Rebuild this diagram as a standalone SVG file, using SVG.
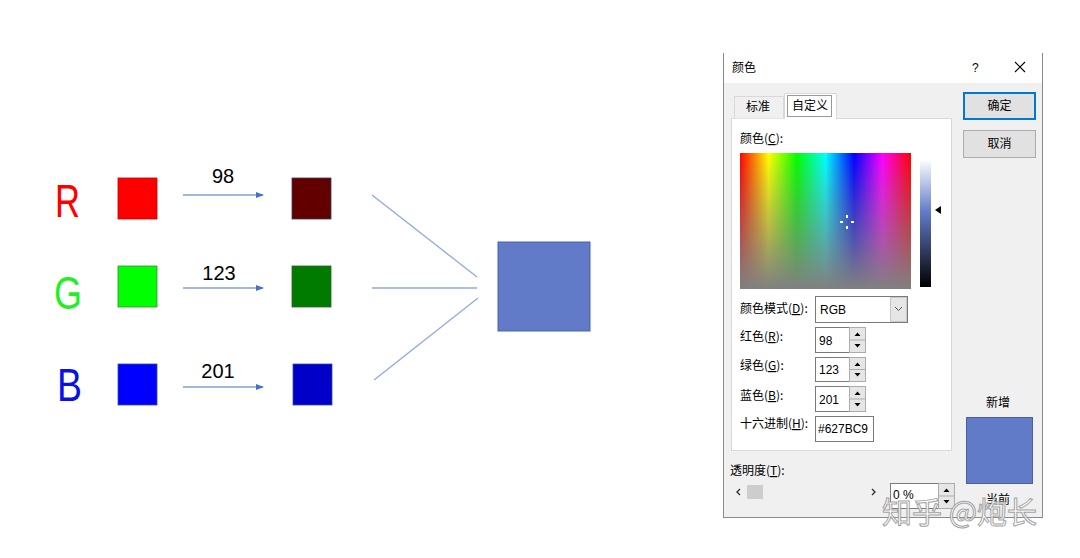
<svg xmlns="http://www.w3.org/2000/svg" width="1080" height="558" viewBox="0 0 1080 558">
<defs>
<style>
.big{font-family:"Liberation Sans",Arial,sans-serif;font-size:46px}
.num{font-family:"Liberation Sans",Arial,sans-serif;font-size:20px;fill:#000;text-anchor:middle}
.conn{stroke:#4472C4;stroke-width:1.2;fill:none}
.fan{stroke:#8FAADC;stroke-width:1.3;fill:none}
.ui{font-family:"Noto Sans CJK SC","Microsoft YaHei",sans-serif;font-size:12px;fill:#000}
.uin{font-family:"Liberation Sans",Arial,sans-serif;font-size:12px;fill:#000}
.box{fill:#fff;stroke:#7a7a7a;stroke-width:1}
.spin{fill:#e6e6e6;stroke:#adadad;stroke-width:1}
.btn{fill:#e1e1e1;stroke:#adadad;stroke-width:1}
.u{text-decoration:underline}
</style>
<marker id="ah" markerWidth="8" markerHeight="8" refX="7" refY="4" orient="auto" markerUnits="userSpaceOnUse">
<path d="M0,1 L8,4 L0,7 Z" fill="#4472C4"/>
</marker>
<linearGradient id="hue" x1="0" y1="0" x2="1" y2="0">
<stop offset="0" stop-color="#ff0000"/>
<stop offset="0.167" stop-color="#ffff00"/>
<stop offset="0.333" stop-color="#00ff00"/>
<stop offset="0.5" stop-color="#00ffff"/>
<stop offset="0.667" stop-color="#0000ff"/>
<stop offset="0.833" stop-color="#ff00ff"/>
<stop offset="1" stop-color="#ff0000"/>
</linearGradient>
<linearGradient id="sat" x1="0" y1="0" x2="0" y2="1">
<stop offset="0" stop-color="#808080" stop-opacity="0"/>
<stop offset="1" stop-color="#808080" stop-opacity="1"/>
</linearGradient>
<linearGradient id="lum" x1="0" y1="0" x2="0" y2="1">
<stop offset="0" stop-color="#ffffff"/>
<stop offset="0.414" stop-color="#627BC9"/>
<stop offset="1" stop-color="#000000"/>
</linearGradient>
</defs>
<rect width="1080" height="558" fill="#ffffff"/>

<g id="label-R"><text class="big" x="55" y="217" fill="#ff0000" textLength="25" lengthAdjust="spacingAndGlyphs">R</text></g>
<g id="label-G"><text class="big" x="54" y="309" fill="#1ff01f" textLength="28" lengthAdjust="spacingAndGlyphs">G</text></g>
<g id="label-B"><text class="big" x="57" y="401" fill="#0a10e8" textLength="25" lengthAdjust="spacingAndGlyphs">B</text></g>

<g id="sq-red"><rect x="118" y="178" width="39" height="41" fill="#ff0000" stroke="#c00000" stroke-width="0.8"/></g>
<g id="sq-green"><rect x="118" y="266" width="39" height="41" fill="#00ff00" stroke="#2f8f2f" stroke-width="0.8"/></g>
<g id="sq-blue"><rect x="118" y="364" width="39" height="41" fill="#0000ff" stroke="#2f528f" stroke-width="0.8"/></g>

<g id="sq-r98"><rect x="292" y="178" width="39" height="41" fill="#620000" stroke="#3a3a5a" stroke-width="0.8"/></g>
<g id="sq-g123"><rect x="292" y="266" width="39" height="41" fill="#007B00" stroke="#2f5f2f" stroke-width="0.8"/></g>
<g id="sq-b201"><rect x="293" y="364" width="39" height="41" fill="#0000C9" stroke="#2f528f" stroke-width="0.8"/></g>

<g id="result"><rect x="498" y="242" width="92" height="89" fill="#627BC9" stroke="#4a64b0" stroke-width="1"/></g>

<g id="connectors">
<line class="conn" x1="183" y1="195" x2="263" y2="195" marker-end="url(#ah)"/>
<line class="conn" x1="183" y1="288" x2="263" y2="288" marker-end="url(#ah)"/>
<line class="conn" x1="183" y1="387" x2="263" y2="387" marker-end="url(#ah)"/>
<text class="num" x="223" y="183">98</text>
<text class="num" x="219" y="280">123</text>
<text class="num" x="218" y="378">201</text>
<line class="fan" x1="372" y1="195" x2="477" y2="277"/>
<line class="fan" x1="372" y1="288" x2="477" y2="288"/>
<line class="fan" x1="374" y1="380" x2="478" y2="298"/>
</g>

<g id="dialog">
<rect x="723" y="53" width="320" height="465" fill="#f0f0f0"/>
<rect x="723" y="53" width="320" height="30" fill="#ffffff"/>
<line x1="723.5" y1="53" x2="723.5" y2="518" stroke="#8a8a8a"/>
<line x1="1042.5" y1="53" x2="1042.5" y2="518" stroke="#8a8a8a"/>
<line x1="723" y1="517.5" x2="1043" y2="517.5" stroke="#8a8a8a"/>
<text class="ui" x="732" y="72">颜色</text>
<text class="uin" x="972" y="72">?</text>
<path d="M1015,62 L1025,72 M1025,62 L1015,72" stroke="#000" stroke-width="1.1"/>

<!-- tabs -->
<rect x="731.5" y="118.5" width="220" height="332" fill="#ffffff" stroke="#d9d9d9"/>
<path d="M734.5,118.5 L734.5,96.5 L783.5,96.5 L783.5,118.5" fill="#f0f0f0" stroke="#d9d9d9"/>
<text class="ui" x="746" y="111">标准</text>
<path d="M784.5,119 L784.5,93.5 L836.5,93.5 L836.5,119" fill="#ffffff" stroke="#d9d9d9"/>
<rect x="787.5" y="95.5" width="44" height="21" fill="none" stroke="#333" stroke-dasharray="1,1" stroke-width="1"/>
<text class="ui" x="792" y="110">自定义</text>

<text class="ui" x="740" y="143">颜色(<tspan class="u">C</tspan>):</text>
<rect x="740" y="153" width="171" height="136" fill="url(#hue)"/>
<rect x="740" y="153" width="171" height="136" fill="url(#sat)"/>
<path d="M847,215v3 M847,226v3 M840,222h3 M851,222h3" stroke="#ffffff" stroke-width="2"/>
<rect x="920" y="159" width="11" height="128" fill="url(#lum)"/>
<path d="M935,210 L941,206 L941,214 Z" fill="#000"/>

<text class="ui" x="740" y="313">颜色模式(<tspan class="u">D</tspan>):</text>
<rect class="box" x="815.5" y="296.5" width="92" height="26"/>
<rect x="890.5" y="297.5" width="16" height="24" fill="#e6e6e6" stroke="#c8c8c8"/>
<path d="M895,307 L898.5,310.5 L902,307" stroke="#555" fill="none"/>
<text class="uin" x="820" y="314">RGB</text>

<text class="ui" x="740" y="341">红色(<tspan class="u">R</tspan>):</text>
<rect class="box" x="815.5" y="327.5" width="34" height="25"/>
<text class="uin" x="819" y="345">98</text>
<rect class="spin" x="849.5" y="327.5" width="16" height="25"/>
<line x1="850" y1="340" x2="865" y2="340" stroke="#adadad"/>
<path d="M854.5,336 L857.5,332.5 L860.5,336 Z M854.5,344 L857.5,347.5 L860.5,344 Z" fill="#000"/>

<text class="ui" x="740" y="370">绿色(<tspan class="u">G</tspan>):</text>
<rect class="box" x="815.5" y="357.5" width="34" height="24"/>
<text class="uin" x="819" y="374">123</text>
<rect class="spin" x="849.5" y="357.5" width="16" height="24"/>
<line x1="850" y1="369.5" x2="865" y2="369.5" stroke="#adadad"/>
<path d="M854.5,366 L857.5,362.5 L860.5,366 Z M854.5,373 L857.5,376.5 L860.5,373 Z" fill="#000"/>

<text class="ui" x="740" y="400">蓝色(<tspan class="u">B</tspan>):</text>
<rect class="box" x="815.5" y="386.5" width="34" height="25"/>
<text class="uin" x="819" y="404">201</text>
<rect class="spin" x="849.5" y="386.5" width="16" height="25"/>
<line x1="850" y1="399" x2="865" y2="399" stroke="#adadad"/>
<path d="M854.5,395 L857.5,391.5 L860.5,395 Z M854.5,403 L857.5,406.5 L860.5,403 Z" fill="#000"/>

<text class="ui" x="740" y="428">十六进制(<tspan class="u">H</tspan>):</text>
<rect class="box" x="815.5" y="416.5" width="58" height="25"/>
<text class="uin" x="818" y="433">#627BC9</text>

<text class="ui" x="730" y="475">透明度(<tspan class="u">T</tspan>):</text>
<rect x="731" y="483" width="148" height="18" fill="#f0f0f0"/>
<path d="M740,489 L737,492 L740,495" stroke="#333" stroke-width="1.4" fill="none"/>
<rect x="747" y="485" width="16" height="14" fill="#cdcdcd"/>
<path d="M872,489 L875,492 L872,495" stroke="#333" stroke-width="1.4" fill="none"/>
<rect class="box" x="890.5" y="483.5" width="48" height="25"/>
<text class="uin" x="893" y="499">0 %</text>
<rect class="spin" x="938.5" y="483.5" width="16" height="25"/>
<line x1="939" y1="496" x2="954" y2="496" stroke="#adadad"/>
<path d="M943.5,492 L946.5,488.5 L949.5,492 Z M943.5,500 L946.5,503.5 L949.5,500 Z" fill="#000"/>

<rect x="964" y="93" width="71" height="26" fill="#e1e1e1" stroke="#0078D7" stroke-width="2"/>
<text class="ui" x="999.5" y="110" text-anchor="middle">确定</text>
<rect class="btn" x="963.5" y="130.5" width="72" height="27"/>
<text class="ui" x="999.5" y="148" text-anchor="middle">取消</text>

<text class="ui" x="998" y="407" text-anchor="middle">新增</text>
<rect x="966.5" y="417.5" width="66" height="66" fill="#627BC9" stroke="#4a5f9c"/>
<text class="ui" x="998" y="504" text-anchor="middle">当前</text>
</g>

<g id="watermark">
<text x="882" y="523" font-family="Noto Sans CJK SC,sans-serif" font-size="30" fill="#ffffff" stroke="#9a9a9a" stroke-width="1" opacity="0.9">知乎 @炮长</text>
</g>
</svg>
